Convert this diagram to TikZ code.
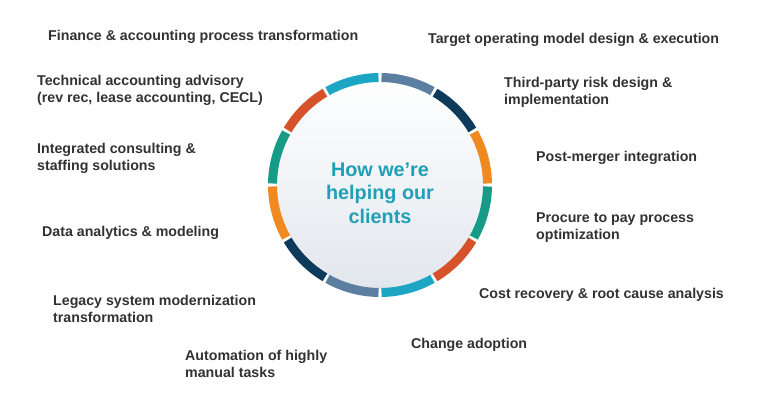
\documentclass[tikz,border=0pt]{standalone}
\usepackage{fontspec}
\setmainfont{Liberation Sans}
\definecolor{cslate}{RGB}{92,126,160}
\definecolor{cnavy}{RGB}{14,58,92}
\definecolor{corange}{RGB}{240,138,32}
\definecolor{cteal}{RGB}{22,156,134}
\definecolor{cred}{RGB}{214,82,42}
\definecolor{ccyan}{RGB}{28,166,196}
\definecolor{ctitle}{RGB}{32,160,182}
\definecolor{clabel}{RGB}{50,50,52}
\definecolor{cdisc}{RGB}{226,231,237}
\begin{document}
\begin{tikzpicture}[x=1pt,y=1pt,
  lbl/.style={anchor=west,inner sep=0pt,align=left,text=clabel,font=\bfseries\fontsize{14.2}{17}\selectfont},
  ringseg/.style={line width=9pt,line cap=butt}]
\useasboundingbox (0,0) rectangle (768,402);
\fill[white] (0,0) rectangle (768,402);
% disc
\coordinate (ctr) at (380,217);
\shade[top color=white,bottom color=cdisc] (ctr) circle[radius=104];
% ring
\foreach \c [count=\i from 0] in {cslate,cnavy,corange,cteal,cred,ccyan,cslate,cnavy,corange,cteal,cred,ccyan}{
  \pgfmathsetmacro\sa{90-30*\i-0.8}
  \pgfmathsetmacro\ea{60-30*\i+0.8}
  \draw[ringseg,\c] (ctr) ++(\sa:107.5) arc[start angle=\sa,end angle=\ea,radius=107.5];
}
\node[text=ctitle,align=center,font=\bfseries\fontsize{19.8}{23.5}\selectfont] (title) at (380,209) {How we’re\\helping our\\clients};
% labels
\node[lbl] (finance) at (48,365) {Finance \& accounting process transformation};
\node[lbl] (technical) at (37,312) {Technical accounting advisory\\(rev rec, lease accounting, CECL)};
\node[lbl] (integrated) at (37,244) {Integrated consulting \&\\staffing solutions};
\node[lbl] (data) at (42,169) {Data analytics \& modeling};
\node[lbl] (legacy) at (53,93.5) {Legacy system modernization\\transformation};
\node[lbl] (automation) at (185,38.5) {Automation of highly\\manual tasks};
\node[lbl] (target) at (428,362) {Target operating model design \& execution};
\node[lbl] (third) at (504,309.5) {Third-party risk design \&\\implementation};
\node[lbl] (post) at (536,244) {Post-merger integration};
\node[lbl] (procure) at (536,174.5) {Procure to pay process\\optimization};
\node[lbl] (cost) at (479,107) {Cost recovery \& root cause analysis};
\node[lbl] (change) at (411,57) {Change adoption};
\end{tikzpicture}
\end{document}
